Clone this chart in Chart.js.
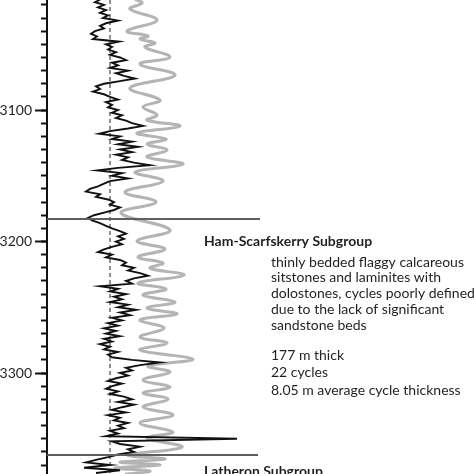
<!DOCTYPE html>
<html>
<head>
<meta charset="utf-8">
<script src="https://cdn.jsdelivr.net/npm/chart.js@4.4.0/dist/chart.umd.min.js"></script>
<style>
  html, body { margin: 0; padding: 0; background: #fff; }
  #wrap { width: 474px; height: 474px; position: relative; }
</style>
</head>
<body>
<div id="wrap"><canvas id="logChart"></canvas></div>
<script>
// depth axis (m), drawn downwards
const depthMin = 3016.3;
const depthMax = 3376.8;
const majorTicks = [3100, 3200, 3300];

// black log, one reading every 2 m from 3016 m
const blackStart = 3016;
const blackStep = 2;
const blackLog = [
  100,95,104,98,106,100,108,103,118,106,
  100,104,95,91,97,93,119,106,112,108,
  116,110,120,126,112,118,110,128,116,124,
  135,120,104,96,100,93,104,110,118,106,
  112,108,118,112,122,116,126,132,143,128,
  110,99,120,112,132,118,138,120,132,116,
  128,122,134,150,118,97,122,112,128,110,
  104,98,90,86,100,96,108,114,110,120,
  114,104,94,88,92,100,106,112,120,126,
  118,124,116,122,112,104,98,112,106,120,
  126,122,134,128,140,148,134,126,132,100,
  118,110,126,114,122,110,128,118,136,120,
  130,112,122,108,118,104,116,106,120,104,
  112,100,110,104,118,108,112,132,160,140,
  126,132,120,128,116,108,122,112,106,118,
  110,124,132,118,134,122,112,126,108,120,
  114,128,118,124,110,118,106,237,112,120,
  140,128,134,118,108,96,86,110,84,120,
  96
];

// grey log, peaks and troughs
const grayDepth = [
  3015.6,3018.6,3023.2,3031.6,3039.9,3043.7,3046,3049,3052.1,3059.7,
  3065,3073.4,3083.3,3092.4,3097.7,3103.8,3107.6,3112.2,3117.5,3122.1,
  3125.9,3130.4,3135.7,3141.1,3147.2,3154,3162.4,3170,3178.3,3191.3,
  3199.6,3205.7,3211.8,3216.4,3220.2,3225.5,3231.6,3236.1,3240.7,3246,
  3250.6,3255.1,3259.7,3265.8,3272.6,3277.2,3282.5,3289.4,3294.7,3299.3,
  3305.3,3310.7,3315.2,3319.8,3325.9,3331.9,3338,3344.9,3349.4,3356.3,
  3362.4,3365.4,3367.7,3370,3372.3,3374.5,3377
];
const grayLog = [
  135,142,130,157,127,148,140,155,145,170,
  140,175,130,160,143,157,147,180,137,166,
  147,167,147,183,135,163,125,156,121,170,
  137,165,138,163,150,184,138,166,143,175,
  147,177,140,164,140,167,140,193,148,170,
  143,170,143,168,143,173,140,173,147,182,
  128,165,120,160,115,150,125
];

// cut-off line and subgroup boundaries
const cutoffValue = 110;
const boundaryDepths = [3182.9, 3362.4];
const boundaryEnds = [260, 258];

const unitNames = ['Ham-Scarfskerry Subgroup', 'Latheron Subgroup'];
const unitNotes = [
  'thinly bedded flaggy calcareous',
  'sitstones and laminites with',
  'dolostones, cycles poorly defined',
  'due to the lack of significant',
  'sandstone beds',
  '177 m thick',
  '22 cycles',
  '8.05 m average cycle thickness'
];

const blackPts = blackLog.map((v, i) => ({ x: v, y: blackStart + i * blackStep }));
const grayPts = grayLog.map((v, i) => ({ x: v, y: grayDepth[i] }));

const datasets = [];
boundaryDepths.forEach((d, i) => {
  datasets.push({
    data: [{ x: 47, y: d }, { x: boundaryEnds[i], y: d }],
    borderColor: '#5f5f5f', borderWidth: 2, order: 0
  });
});
datasets.push({ data: blackPts, borderColor: '#111', borderWidth: 1.9, order: 1 });
datasets.push({
  data: [{ x: cutoffValue, y: depthMin }, { x: cutoffValue, y: depthMax }],
  borderColor: '#222', borderWidth: 1, borderDash: [4, 3], order: 2
});
datasets.push({ data: grayPts, borderColor: '#b4b4b4', borderWidth: 3, tension: 0.4, order: 3 });
datasets.forEach(ds => { ds.showLine = true; ds.pointRadius = 0; ds.fill = false; });

// text notes beside the log
const notesPlugin = {
  id: 'notes',
  afterDatasetsDraw(chart) {
    const ctx = chart.ctx;
    ctx.save();
    ctx.fillStyle = '#231f20';
    ctx.textBaseline = 'alphabetic';
    ctx.font = 'bold 14px Lato';
    ctx.fillText(unitNames[0], 204, 246);
    ctx.fillText(unitNames[1], 204, 476);
    ctx.font = '14px Lato';
    const ys = [266.5, 282, 298, 313.5, 329.5, 360, 376.5, 394.5];
    unitNotes.forEach((t, i) => ctx.fillText(t, 271, ys[i]));
    ctx.restore();
  }
};

function fitLeft(w) {
  return s => { s.width = w; s.paddingTop = 0; s.paddingBottom = 0; };
}

new Chart(document.getElementById('logChart'), {
  type: 'scatter',
  data: { datasets: datasets },
  options: {
    responsive: true,
    maintainAspectRatio: false,
    animation: false,
    layout: { padding: 0 },
    plugins: { legend: { display: false }, tooltip: { enabled: false } },
    scales: {
      x: { type: 'linear', min: 47, max: 474, display: false },
      y: {
        type: 'linear', position: 'left', reverse: true,
        min: depthMin, max: depthMax, weight: 1,
        afterBuildTicks: s => { s.ticks = majorTicks.map(v => ({ value: v })); },
        afterFit: fitLeft(47),
        ticks: {
          autoSkip: false, padding: 3, color: '#231f20',
          font: { family: 'Lato', size: 14 },
          callback: v => String(v)
        },
        grid: { drawOnChartArea: false, tickLength: 12, tickWidth: 2, tickColor: '#111' },
        border: { display: true, color: '#111', width: 2 }
      },
      yMinor: {
        type: 'linear', position: 'left', reverse: true,
        min: depthMin, max: depthMax, weight: 0,
        afterFit: fitLeft(0),
        ticks: { stepSize: 10, autoSkip: false, includeBounds: false, callback: () => '' },
        grid: { drawOnChartArea: false, tickLength: 6, tickWidth: 2, tickColor: '#111' },
        border: { display: false }
      }
    }
  },
  plugins: [notesPlugin]
});
</script>
</body>
</html>
